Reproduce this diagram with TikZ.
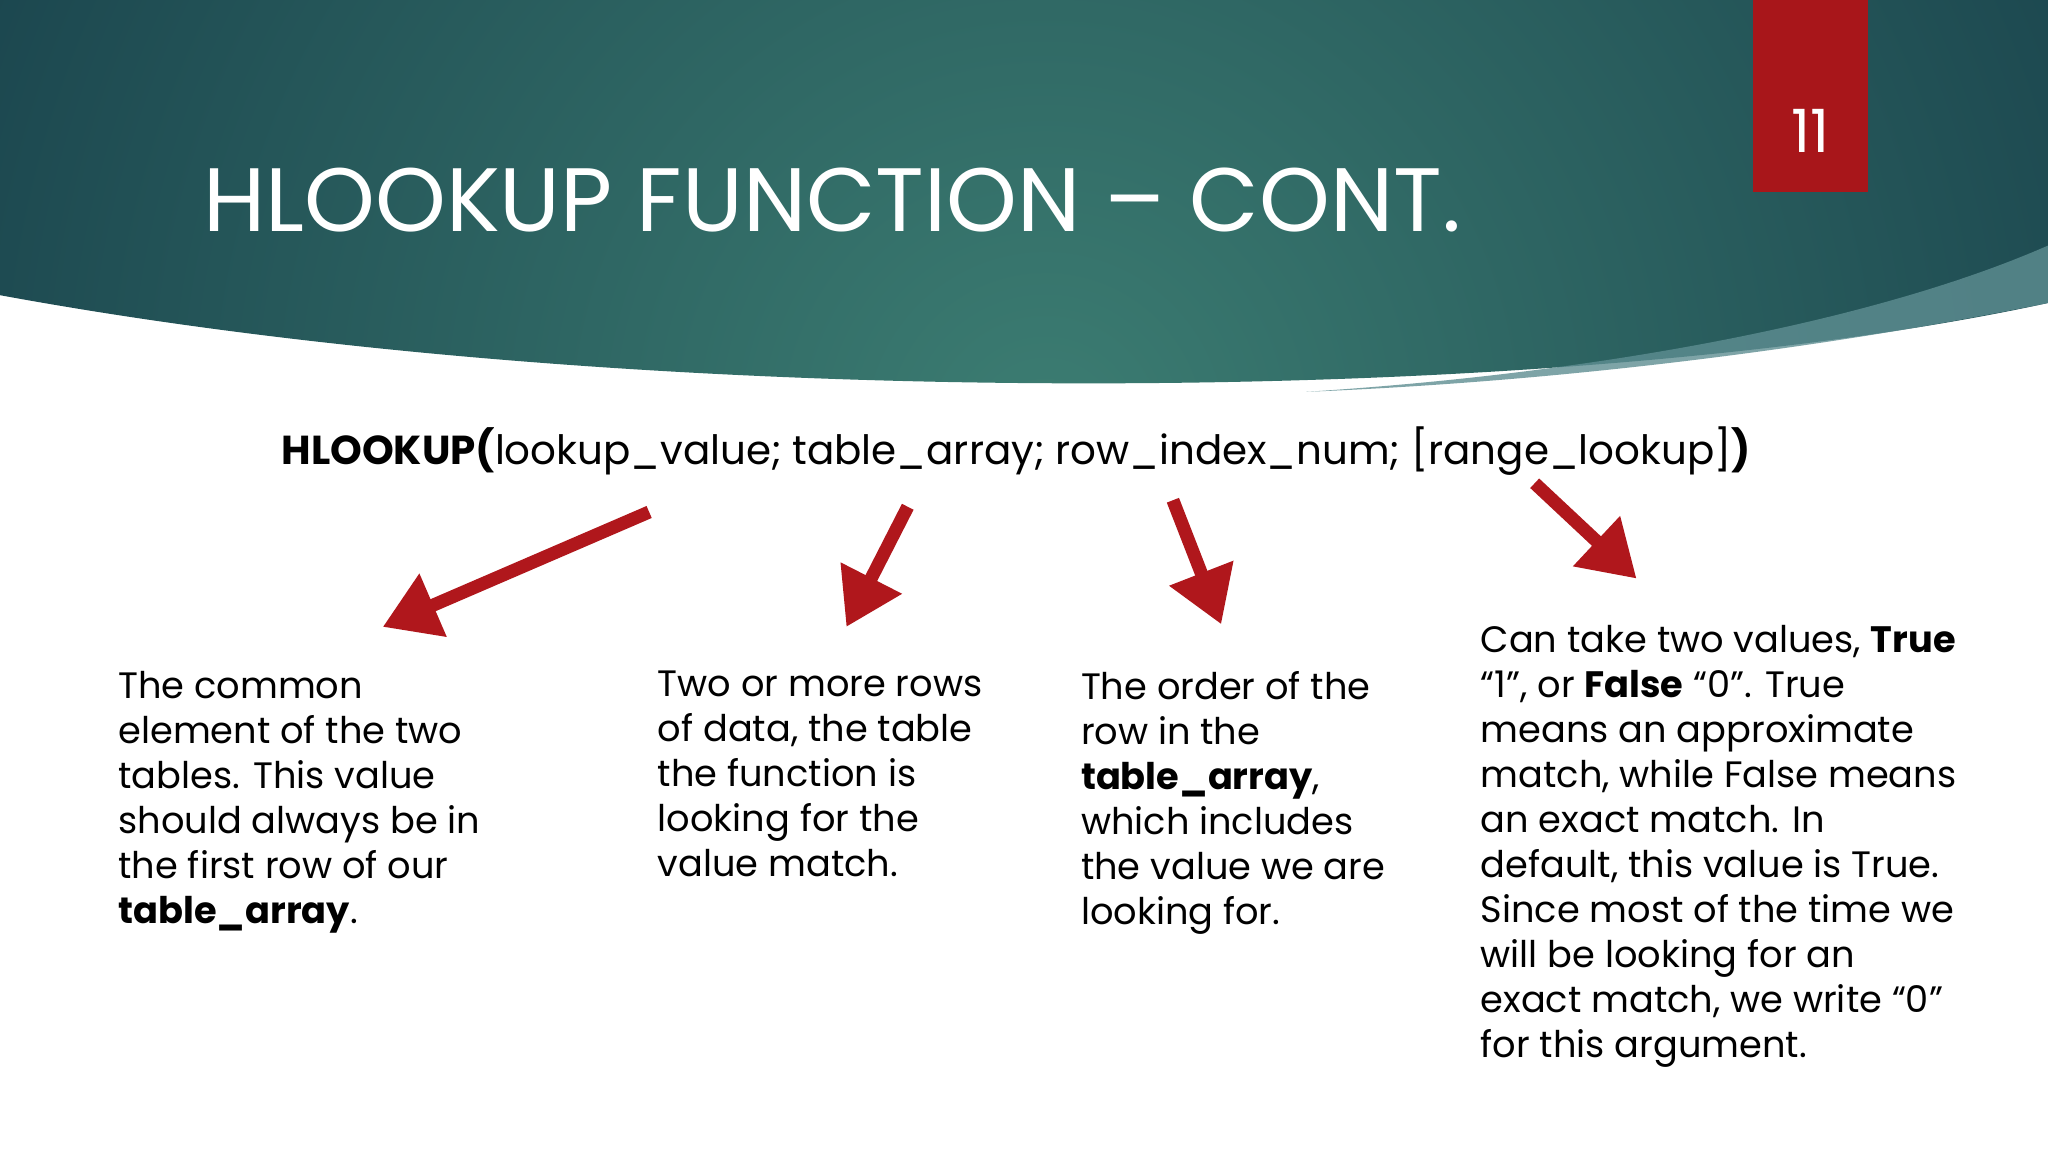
\documentclass[tikz,border=0pt]{standalone}
\usepackage{fontspec}
\setmainfont{Poppins}
\usetikzlibrary{arrows.meta}
\definecolor{tealdark}{HTML}{173F4A}
\definecolor{teallight}{HTML}{3C7D72}
\definecolor{swoosh}{HTML}{5E8E92}
\definecolor{redbox}{HTML}{A8161A}
\definecolor{arrowred}{HTML}{B0171C}
\tikzset{
  arr/.style={draw=arrowred, line width=0.1cm, -{Triangle[length=0.42cm,width=0.5cm]}},
  body/.style={anchor=north west, align=left, font=\fontsize{8pt}{9.8pt}\selectfont, inner sep=0pt},
}
\begin{document}
\begin{tikzpicture}[x=0.01cm,y=-0.01cm]
\useasboundingbox (0,0) rectangle (1568,882);
\fill[white] (0,0) rectangle (1568,882);
% header
\begin{scope}
\clip (0,0) -- (1568,0) -- (1568,232) .. controls (1200,312) and (500,318) .. (0,226) -- cycle;
\shade[inner color=teallight, outer color=tealdark] (800,330) circle (1000);
\end{scope}
\fill[swoosh,opacity=0.8] (1000,300) .. controls (1250,284) and (1450,240) .. (1568,188) -- (1568,232) .. controls (1400,266) and (1200,292) .. (1000,300) -- cycle;
\fill[redbox] (1342,0) rectangle (1430,147);
\node[white, font=\fontsize{13pt}{13pt}\selectfont] (num) at (1386,100) {11};
\node[white, anchor=west, inner sep=0pt, font=\fontsize{19.6pt}{20pt}\selectfont] (title) at (155,153) {HLOOKUP FUNCTION – CONT.};
% formula
\node[font=\fontsize{8.8pt}{10pt}\selectfont] (f) at (778,345) {\textbf{HLOOKUP(}lookup\_value; table\_array; row\_index\_num; [range\_lookup]\textbf{)}};
% arrows
\coordinate (a1s) at (497,392); \coordinate (a1e) at (293,480);
\coordinate (a2s) at (695,388); \coordinate (a2e) at (648,480);
\coordinate (a3s) at (898,383); \coordinate (a3e) at (935,478);
\coordinate (a4s) at (1175,370); \coordinate (a4e) at (1253,443);
\draw[arr] (a1s) -- (a1e);
\draw[arr] (a2s) -- (a2e);
\draw[arr] (a3s) -- (a3e);
\draw[arr] (a4s) -- (a4e);
% texts
\node[body] (t1) at (90,513) {The common\\element of the two\\tables. This value\\should always be in\\the first row of our\\\textbf{table\_array}.};
\node[body] (t2) at (503,513) {Two or more rows\\of data, the table\\the function is\\looking for the\\value match.};
\node[body] (t3) at (827,513) {The order of the\\row in the\\\textbf{table\_array},\\which includes\\the value we are\\looking for.};
\node[body] (t4) at (1133,478) {Can take two values, \textbf{True}\\“1”, or \textbf{False} “0”. True\\means an approximate\\match, while False means\\an exact match. In\\default, this value is True.\\Since most of the time we\\will be looking for an\\exact match, we write “0”\\for this argument.};
\end{tikzpicture}
\end{document}
